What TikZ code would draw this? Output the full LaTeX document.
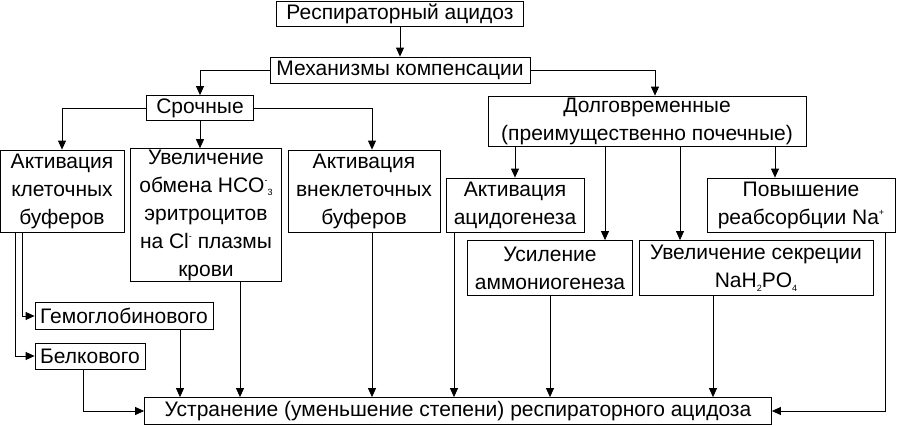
\documentclass[tikz,border=0pt]{standalone}
\usepackage{fontspec}
\setmainfont{Liberation Sans}
\usetikzlibrary{arrows.meta}
\newcommand{\up}[1]{\raisebox{0.75ex}{\fontsize{9}{9}\selectfont #1}}
\newcommand{\dn}[1]{\raisebox{-0.35ex}{\fontsize{9}{9}\selectfont #1}}
\tikzset{
  blk/.style={draw, thick, align=center, inner sep=1pt, font=\fontsize{21}{28}\selectfont},
  arr/.style={-{Triangle[length=9pt,width=8pt]}, thick},
}
\begin{document}
\begin{tikzpicture}[x=1pt,y=-1pt]
  \useasboundingbox (0,0) rectangle (900,426);
  % boxes
  \node[blk, minimum width=247, minimum height=25] (acid) at (400,14) {Респираторный ацидоз};
  \node[blk, minimum width=260, minimum height=26] (mech) at (400,70) {Механизмы компенсации};
  \node[blk, minimum width=107, minimum height=25] (fast) at (200,108) {Срочные};
  \node[blk, minimum width=318, minimum height=50] (slow) at (647,121)
    {Долговременные\\(преимущественно почечные)};
  \node[blk, minimum width=124, minimum height=82] (cell) at (62,191)
    {Активация\\клеточных\\буферов};
  \node[blk, minimum width=151, minimum height=130] (hco) at (206,215)
    {Увеличение\\обмена HCO\up{-}\dn{3}\\эритроцитов\\на Cl\up{-} плазмы\\крови};
  \node[blk, minimum width=152, minimum height=82] (extra) at (364,191)
    {Активация\\внеклеточных\\буферов};
  \node[blk, minimum width=138, minimum height=54] (acidg) at (515,205)
    {Активация\\ацидогенеза};
  \node[blk, minimum width=188, minimum height=54] (na) at (801,205)
    {Повышение\\реабсорбции Na\up{+}};
  \node[blk, minimum width=165, minimum height=55] (ammon) at (550,268)
    {Усиление\\аммониогенеза};
  \node[blk, minimum width=234, minimum height=55] (secr) at (756,268)
    {Увеличение секреции\\NaH\dn{2}PO\dn{4}};
  \node[blk, minimum width=178, minimum height=27] (hem) at (124,316) {Гемоглобинового};
  \node[blk, minimum width=110, minimum height=26] (prot) at (90,356) {Белкового};
  \node[blk, minimum width=627, minimum height=27] (res) at (458,411)
    {Устранение (уменьшение степени) респираторного ацидоза};
  % connectors
  \draw[arr] (acid) -- (mech);
  \draw[arr] (mech.west) -| (fast.north);
  \draw[arr] (mech.east) -| ([xshift=8]slow.north);
  \draw[arr] (fast.west) -| (cell.north);
  \draw[arr] (fast.south) -- (fast.south |- hco.north);
  \draw[arr] (fast.east) -| ([xshift=8]extra.north);
  \draw[arr] (slow.south -| acidg) -- (acidg.north);
  \draw[arr] ([xshift=55]slow.south -| ammon) -- ([xshift=55]ammon.north);
  \draw[arr] ([xshift=-76]slow.south -| secr) -- ([xshift=-76]secr.north);
  \draw[arr] ([xshift=-26]slow.south -| na) -- ([xshift=-26]na.north);
  \draw[arr] ([xshift=-40]cell.south) |- (hem.west);
  \draw[arr] ([xshift=-47]cell.south) |- (prot.west);
  \draw[arr] ([xshift=56]hem.south) -- ([xshift=56]hem.south |- res.north);
  \draw[arr] ([xshift=-7]prot.south) |- (res.west);
  \draw[arr] ([xshift=34]hco.south) -- ([xshift=34]hco.south |- res.north);
  \draw[arr] ([xshift=8]extra.south) -- ([xshift=8]extra.south |- res.north);
  \draw[arr] ([xshift=-61]acidg.south) -- ([xshift=-61]acidg.south |- res.north);
  \draw[arr] (ammon.south) -- (ammon.south |- res.north);
  \draw[arr] ([xshift=-43]secr.south) -- ([xshift=-43]secr.south |- res.north);
  \draw[arr] ([xshift=84]na.south) |- (res.east);
\end{tikzpicture}
\end{document}
